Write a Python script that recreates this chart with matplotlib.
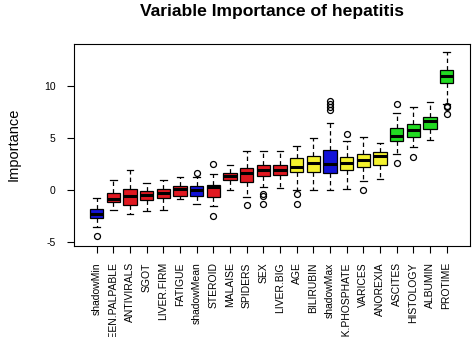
import matplotlib
matplotlib.use("Agg")
import matplotlib.pyplot as plt

plt.rcParams['font.family'] = ['Liberation Sans', 'DejaVu Sans']

features = ["shadowMin", "SPLEEN.PALPABLE", "ANTIVIRALS", "SGOT", "LIVER.FIRM",
            "FATIGUE", "shadowMean", "STEROID", "MALAISE", "SPIDERS", "SEX",
            "LIVER.BIG", "AGE", "BILIRUBIN", "shadowMax", "ALK.PHOSPHATE",
            "VARICES", "ANOREXIA", "ASCITES", "HISTOLOGY", "ALBUMIN", "PROTIME"]
decision = ["shadow", "rejected", "rejected", "rejected", "rejected",
            "rejected", "shadow", "rejected", "rejected", "rejected", "rejected",
            "rejected", "tentative", "tentative", "shadow", "tentative",
            "tentative", "tentative", "confirmed", "confirmed", "confirmed", "confirmed"]
whisker_low = [-3.57, -1.9, -2.23, -1.97, -1.85, -0.83, -1.3, -1.5, 0.02, -0.6,
               0.35, 0.23, 0.0, 0.07, 0.0, 0.16, 0.86, 1.09, 3.51, 4.15, 4.85, 8.25]
q1 = [-2.7, -1.15, -1.4, -0.96, -0.7, -0.51, -0.51, -0.63, 0.99, 0.78,
      1.4, 1.47, 1.72, 1.74, 1.66, 1.91, 2.2, 2.46, 4.69, 5.14, 5.93, 10.28]
median = [-2.25, -0.85, -0.57, -0.48, -0.25, 0.16, 0.07, 0.27, 1.34, 1.66,
          1.93, 1.97, 2.27, 2.6, 2.53, 2.62, 2.87, 3.25, 5.23, 5.81, 6.67, 10.95]
q3 = [-1.82, -0.3, 0.13, -0.1, 0.16, 0.45, 0.38, 0.5, 1.66, 2.12,
      2.43, 2.43, 3.06, 3.25, 3.86, 3.2, 3.48, 3.67, 5.97, 6.35, 7.08, 11.55]
whisker_high = [-0.7, 0.98, 1.91, 0.71, 1.0, 1.24, 1.28, 1.55, 2.43, 3.73,
                3.73, 3.73, 4.21, 5.03, 6.45, 4.69, 5.1, 4.53, 7.46, 8.04, 8.46, 13.27]
outliers = [[-4.43], [], [], [], [], [], [1.65], [2.5, -2.47], [], [-1.38],
            [-0.35, -0.5, -1.3], [], [-0.33, -1.3], [], [8.6, 8.3, 8.0, 7.75],
            [5.43], [0.0], [], [8.27, 2.62], [3.2], [], [8.1, 8.0, 7.3]]
palette = {"shadow": "#1212D8", "rejected": "#E01820",
           "tentative": "#F4F22E", "confirmed": "#22DA22"}

stats = []
for i, name in enumerate(features):
    stats.append(dict(label=name, whislo=whisker_low[i], q1=q1[i], med=median[i],
                      q3=q3[i], whishi=whisker_high[i], fliers=outliers[i]))

fig = plt.figure(figsize=(4.74, 3.37), dpi=100)
ax = fig.add_axes([73.5 / 474, 1 - 245.5 / 337, (469.5 - 73.5) / 474, (245.5 - 44) / 337])

positions = list(range(1, len(features) + 1))
bp = ax.bxp(stats, positions=positions, widths=0.8, patch_artist=True,
            showfliers=True,
            boxprops=dict(edgecolor="black", linewidth=0.9),
            medianprops=dict(color="black", linewidth=2.2, solid_capstyle="butt"),
            whiskerprops=dict(color="black", linewidth=0.9, linestyle=(0, (3.5, 2.5))),
            capprops=dict(color="black", linewidth=0.9),
            flierprops=dict(marker="o", markerfacecolor="none", markeredgecolor="black",
                            markersize=4.3, markeredgewidth=0.9),
            capwidths=0.4)
for patch, d in zip(bp["boxes"], decision):
    patch.set_facecolor(palette[d])

ax.set_xlim(-0.38, len(features) + 1.38)
ax.set_ylim(-5.3, 14.05)
ax.set_yticks([-5, 0, 5, 10])
ax.set_yticklabels(["-5", "0", "5", "10"], fontsize=7.5)
ax.set_xticks(positions)
ax.set_xticklabels(features, rotation=90, fontsize=7.5)
ax.tick_params(axis="x", length=5, width=0.8, pad=7)
ax.tick_params(axis="y", length=5, width=0.8, pad=8)
for s in ax.spines.values():
    s.set_linewidth(0.8)

ax.set_ylabel("Importance", fontsize=10.5, labelpad=16.5)
ax.set_title("Variable Importance of hepatitis", fontsize=12.6, fontweight="bold", pad=20)

fig.savefig("out.png", dpi=100)
